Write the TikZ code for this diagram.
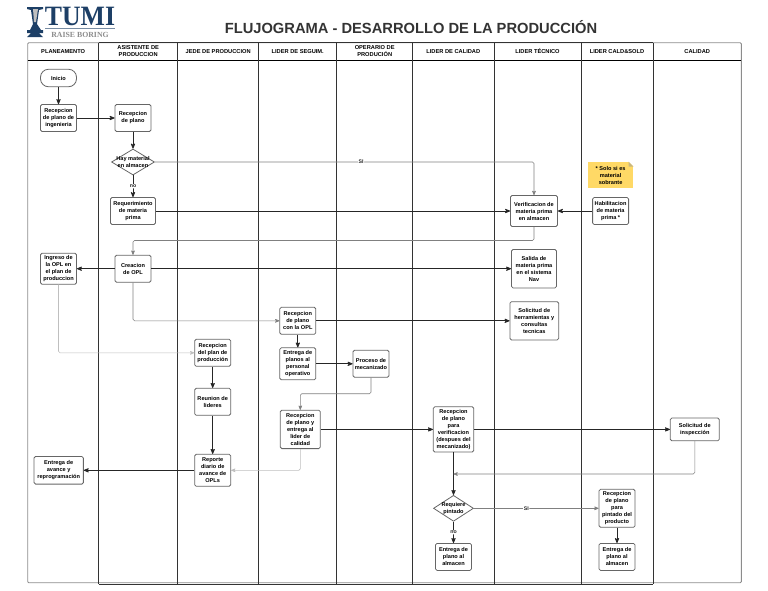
\documentclass[tikz,border=0pt]{standalone}
\usepackage{fontspec}
\setmainfont{Liberation Sans}
\newfontfamily\logofont{Liberation Serif}
\usetikzlibrary{shapes.geometric, positioning, arrows}
\definecolor{navy}{HTML}{1D3F66}
\definecolor{notefill}{HTML}{FFD966}
\tikzset{x=1pt, y=-1pt, % One unit is one pixel of the sheet, y runs downwards
every edge/.style={ % Sets the properties for each connector
draw,->,>=stealth',
rounded corners=1.5pt,line width=.8pt,black!85},
lane/.style={line width=1pt,black!80}, % Separators of the lanes
hdr/.style={align=center,inner sep=0pt,font=\fontsize{5.7}{7}\selectfont\bfseries},
proc/.style={ % Sets the properties for each task box
draw=black!60,line width=.8pt,fill=white,rounded corners=1.5pt,
align=center,inner sep=0pt,minimum width=36pt,minimum height=27pt,
font=\fontsize{5.6}{7}\selectfont\bfseries},
decision/.style={ % Text sits in a label so that it can overrun the outline
diamond,draw=black!60,line width=.8pt,fill=white,inner sep=0pt,
minimum width=43pt,minimum height=26pt},
choice/.style={align=center,inner sep=0pt,font=\fontsize{5.6}{7}\selectfont\bfseries},
word/.style={fill=white,inner sep=.6pt,font=\fontsize{5.2}{6}\selectfont\bfseries},
pale/.style={draw=black!25},
midgray/.style={draw=black!50,line width=.6pt}}

\begin{document}
\begin{tikzpicture}
    \useasboundingbox (0,0) rectangle (768,590);

    % logo
    \node[inner sep=0pt, text=navy, font=\logofont\bfseries\fontsize{28}{28}\selectfont, xscale=.92] (logoname) at (80,16.5) {TUMI};
    \node[inner sep=0pt, text=black!45, font=\logofont\bfseries\fontsize{7.8}{8}\selectfont] (logosub) at (80,35) {RAISE BORING};
    \fill[navy!60] (45,28) rectangle (115,29.4);
    \fill[navy] (27,7) -- (43,7) -- (43,9) -- (39,10) -- (37,24) -- (41,30) -- (43,30) -- (43,33) -- (39,33) -- (43,37) -- (27,37) -- (31,33) -- (27,33) -- (27,30) -- (30,30) -- (33,24) -- (31,10) -- (27,9) -- cycle;
    \fill[black!25] (33,9) -- (38,9) -- (36,22) -- (34,22) -- cycle;

    % title
    \node[inner sep=0pt, text=black!80, font=\bfseries\fontsize{14.7}{16}\selectfont] (title) at (411,27) {FLUJOGRAMA - DESARROLLO DE LA PRODUCCIÓN};

    % lanes
    \draw[line width=.9pt, black!45, rounded corners=1pt] (27.7,42.7) rectangle (741.3,582.7);
    \draw[lane] (98.7,42.7) -- (653,42.7);
    \draw[lane] (98.7,584.3) -- (653,584.3);
    \draw[line width=.9pt, black] (27.7,60.3) -- (741.3,60.3);
    \foreach \x in {98.7,177.7,258.7,336.7,412.7,494,581,653}
        \draw[lane] (\x,42.7) -- (\x,584.3);

    % headers
    \foreach \i/\x/\txt in {a/63.2/PLANEAMENTO, b/138.2/{ASISTENTE DE\\PRODUCCION}, c/218.2/JEDE DE PRODUCCION,
        d/297.7/LIDER DE SEGUIM., e/374.7/{OPERARIO DE\\PRODUCIÓN}, f/453.3/LIDER DE CALIDAD,
        g/537.5/LIDER TÉCNICO, h/617/LIDER CALD\&SOLD, i/697.2/CALIDAD}
        \node[hdr] (hdr\i) at (\x,51.3) {\txt};

    % first lanes
    \node[proc, minimum height=17.5pt, rounded corners=8pt] (inicio) at (58.5,78) {Inicio};
    \node[proc, below of=inicio, node distance=40pt] (recing) {Recepcion\\de plano de\\ingenieria};
    \node[proc, right of=recing, node distance=74.5pt] (recplano) {Recepcion\\de plano};
    \node[decision, below of=recplano, node distance=44pt,
        label={[choice]center:{Hay material\\en almacen}}] (hay) {};
    \node[proc, below of=hay, node distance=49pt, minimum width=45pt] (reqmat) {Requerimiento\\de materia\\prima};
    \node[proc, below of=reqmat, node distance=57.7pt] (creacion) {Creacion\\de OPL};
    \node[proc, left of=creacion, node distance=74.5pt, minimum height=31pt] (ingreso) {Ingreso de\\la OPL en\\el plan de\\produccion};

    % technical lead and welding
    \node[proc, right of=reqmat, node distance=401pt, minimum width=47pt, minimum height=31pt] (verif) {Verificacion de\\materia prima\\en almacen};
    \node[proc, right of=creacion, node distance=401pt, minimum width=45pt, minimum height=38.4pt] (salida) {Salida de\\materia prima\\en el sistema\\Nav};
    \node[proc, right of=verif, node distance=76.6pt] (habil) {Habilitacion\\de materia\\prima *};
    \node[proc, above of=habil, node distance=35.8pt, draw=none, fill=notefill, rounded corners=0pt, minimum width=45pt, minimum height=26.4pt] (nota) {* Solo si es\\material\\sobrante};
    \fill[white] (nota.north east) -- ++(-5,0) -- ++(5,5) -- cycle;
    \fill[notefill!70!black!70!white] (nota.north east) ++(-5,0) -- ++(0,5) -- ++(5,0) -- cycle;

    % follow-up lead and operator
    \node[proc] (recopl) at (297.8,320.8) {Recepcion\\de plano\\con la OPL};
    \node[proc, right of=recopl, node distance=236.5pt, minimum width=48.7pt, minimum height=38.3pt] (solherr) {Solicitud de\\herramientas y\\consultas\\tecnicas};
    \node[proc, below of=recopl, node distance=43pt, minimum height=32pt] (entpers) {Entrega de\\planos al\\personal\\operativo};
    \node[proc, right of=entpers, node distance=73.2pt] (proceso) {Proceso de\\mecanizado};
    \node[proc, minimum width=40pt, minimum height=38.4pt] (reclid) at (300.3,429.4) {Recepcion\\de plano y\\entrega al\\lider de\\calidad};

    % production chief
    \node[proc] (recprod) at (212.7,352.8) {Recepcion\\del plan de\\producción};
    \node[proc, below of=recprod, node distance=49pt] (reunion) {Reunion de\\lideres};
    \node[proc, below of=reunion, node distance=68.5pt, minimum height=32pt] (reporte) {Reporte\\diario de\\avance de\\OPLs};
    \node[proc, left of=reporte, node distance=154pt, minimum width=49.3pt, minimum height=27.6pt] (entav) {Entrega de\\avance y\\reprogramación};

    % quality
    \node[proc, right of=reclid, node distance=153.2pt, minimum width=40.4pt, minimum height=45.3pt] (recver) {Recepcion\\de plano\\para\\verificacion\\(despues del\\mecanizado)};
    \node[proc, right of=recver, node distance=241.3pt, minimum width=49pt, minimum height=22.7pt] (solins) {Solicitud de\\inspección};
    \node[decision, below of=recver, node distance=78.9pt, minimum width=40pt, label={[choice]center:{Requiere\\pintado}}] (pintar) {};
    \node[proc, below of=pintar, node distance=48.6pt] (entalm) {Entrega de\\plano al\\almacen};
    \node[proc, right of=pintar, node distance=163.5pt, minimum height=38pt] (recpin) {Recepcion\\de plano\\para\\pintado del\\producto};
    \node[proc, right of=entalm, node distance=163.5pt] (entalmb) {Entrega de\\plano al\\almacen};

    % free corners and the joining point
    \coordinate (retorno) at (133,240.5);
    \coordinate (giro) at (300.3,393.7);
    \coordinate (union) at (453.5,474);

    \draw (inicio) edge (recing);
    \draw (recing) edge (recplano);
    \draw (recplano) edge (hay);
    \draw (hay) edge node[word] {no} (reqmat);
    \draw (reqmat) edge (verif);
    \draw (habil) edge (verif);
    \draw (creacion) edge (ingreso);
    \draw (creacion) edge (salida);
    \draw (recopl) edge (solherr);
    \draw (recopl) edge (entpers);
    \draw (entpers) edge (proceso);
    \draw (reclid) edge (recver);
    \draw (recver) edge (solins);
    \draw (recver) edge (pintar);
    \draw (pintar) edge node[word] {no} (entalm);
    \draw (pintar) edge[midgray] node[word, pos=.42] {SI} (recpin);
    \draw (recpin) edge (entalmb);
    \draw (recprod) edge (reunion);
    \draw (reunion) edge (reporte);
    \draw (reporte) edge (entav);

    \draw (hay.east) edge[midgray, to path={-| (\tikztotarget) \tikztonodes}] node[word, pos=.272] {SI} (verif.north);
    \draw (verif.south) edge[midgray, to path={|- (retorno) -- (\tikztotarget)}] (creacion.north);
    \draw (creacion.south) edge[midgray, to path={|- (\tikztotarget)}] (recopl.west);
    \draw (ingreso.south) edge[midgray, pale, to path={|- (\tikztotarget)}] (recprod.west);
    \draw (proceso.south) edge[midgray, to path={|- (giro) -- (\tikztotarget)}] (reclid.north);
    \draw (reclid.south) edge[midgray, pale, to path={|- (\tikztotarget)}] (reporte.east);
    \draw (solins.south) edge[midgray, to path={|- (\tikztotarget)}] (union);

\end{tikzpicture}
\end{document}
